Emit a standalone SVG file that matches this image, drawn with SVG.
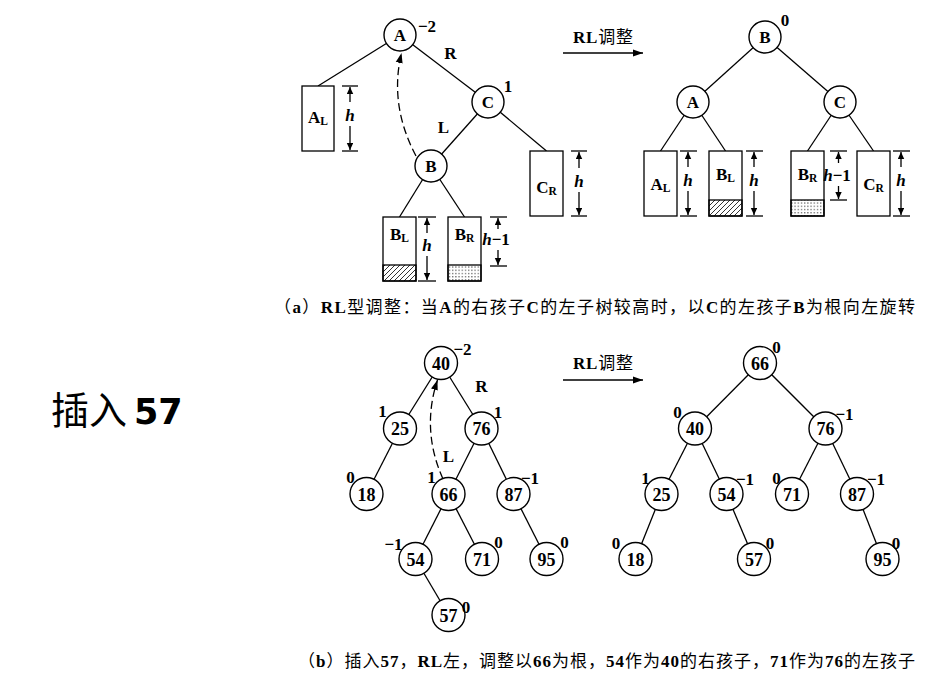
<svg xmlns="http://www.w3.org/2000/svg" width="952" height="679" viewBox="0 0 952 679">
<style>
.e{stroke:#000;stroke-width:1.3;fill:none}
.d{stroke:#000;stroke-width:1.3;fill:none;stroke-dasharray:8 4}
.n circle{fill:#fff;stroke:#000;stroke-width:1.4}
.box rect.o{fill:#fff;stroke:#000;stroke-width:1.3}
.t{font-family:"Liberation Serif","Noto Sans CJK SC",serif;font-weight:bold;fill:#000;text-anchor:middle}
.nl{font-size:17px}
.num{font-size:18px}
.bf{font-size:17px}
.h{font-family:"Liberation Serif",serif;font-weight:bold;font-style:italic;font-size:17px;text-anchor:middle}
.hn{font-style:normal}
.sub{font-size:11.5px}
.cap{font-family:"Liberation Serif","Noto Sans CJK SC",serif;font-size:17px;fill:#000}
.b{font-weight:bold}
.tick{stroke:#000;stroke-width:1.3}
.ha{stroke:#000;stroke-width:1.3;marker-end:url(#as)}
</style>
<defs>
<marker id="al" markerUnits="userSpaceOnUse" markerWidth="10" markerHeight="8" refX="10" refY="4" orient="auto"><path d="M0,0.5 L10,4 L0,7.5 z" fill="#000"/></marker>
<marker id="as" markerUnits="userSpaceOnUse" markerWidth="7" markerHeight="7" refX="7" refY="3.2" orient="auto"><path d="M0,0 L7,3.2 L0,6.4 z" fill="#000"/></marker>
<pattern id="hatch" patternUnits="userSpaceOnUse" width="5" height="5"><path d="M-1,6 L6,-1 M-1,1 L1,-1 M4,6 L6,4" stroke="#000" stroke-width="0.8"/></pattern>
<pattern id="dots" patternUnits="userSpaceOnUse" width="3.2" height="3.2"><rect x="1" y="1" width="1" height="1" fill="#000"/></pattern>
</defs>
<rect width="952" height="679" fill="#fff"/>

<g id="connectors">
  <line class="e" x1="400" y1="35" x2="318" y2="86"/>
  <line class="e" x1="400" y1="35" x2="488" y2="102"/>
  <line class="e" x1="488" y1="102" x2="431" y2="166"/>
  <line class="e" x1="488" y1="102" x2="546.5" y2="151"/>
  <line class="e" x1="431" y1="166" x2="399.5" y2="217"/>
  <line class="e" x1="431" y1="166" x2="464.5" y2="217"/>
  <path class="d" d="M416,156 Q389,105 401.5,53" marker-end="url(#al)"/>
  <line class="e" x1="765" y1="37" x2="693" y2="102"/>
  <line class="e" x1="765" y1="37" x2="840" y2="102"/>
  <line class="e" x1="693" y1="102" x2="660.5" y2="151"/>
  <line class="e" x1="693" y1="102" x2="725.5" y2="151"/>
  <line class="e" x1="840" y1="102" x2="807.5" y2="151"/>
  <line class="e" x1="840" y1="102" x2="873.5" y2="151"/>
  <line class="e" x1="563" y1="53" x2="643" y2="53" marker-end="url(#al)"/>
  <line class="e" x1="563" y1="380" x2="643" y2="380" marker-end="url(#al)"/>
  <line class="e" x1="441" y1="363" x2="400" y2="428.5"/>
  <line class="e" x1="441" y1="363" x2="481.5" y2="428.5"/>
  <line class="e" x1="400" y1="428.5" x2="366.5" y2="494"/>
  <line class="e" x1="481.5" y1="428.5" x2="448.5" y2="494"/>
  <line class="e" x1="481.5" y1="428.5" x2="513.5" y2="494"/>
  <line class="e" x1="448.5" y1="494" x2="415.5" y2="559"/>
  <line class="e" x1="448.5" y1="494" x2="482" y2="559"/>
  <line class="e" x1="513.5" y1="494" x2="546.5" y2="559"/>
  <line class="e" x1="415.5" y1="559" x2="448.5" y2="615"/>
  <path class="d" d="M443,479 Q421,430 437.5,380" marker-end="url(#al)"/>
  <line class="e" x1="760" y1="363" x2="695" y2="428.5"/>
  <line class="e" x1="760" y1="363" x2="825.5" y2="428.5"/>
  <line class="e" x1="695" y1="428.5" x2="661.5" y2="494"/>
  <line class="e" x1="695" y1="428.5" x2="726.5" y2="494"/>
  <line class="e" x1="825.5" y1="428.5" x2="792" y2="494"/>
  <line class="e" x1="825.5" y1="428.5" x2="857" y2="494"/>
  <line class="e" x1="661.5" y1="494" x2="635.5" y2="559"/>
  <line class="e" x1="726.5" y1="494" x2="754" y2="559"/>
  <line class="e" x1="857" y1="494" x2="882.5" y2="559"/>
</g>

<g id="a1-A" class="n"><circle cx="400" cy="35" r="16"/><text class="t nl" x="400" y="41">A</text></g>
<g id="a1-C" class="n"><circle cx="488" cy="102" r="16"/><text class="t nl" x="488" y="108">C</text></g>
<g id="a1-B" class="n"><circle cx="431" cy="166" r="16"/><text class="t nl" x="431" y="172">B</text></g>
<g id="a1-AL" class="box"><rect class="o" x="302" y="86" width="32" height="65"/><text class="t nl" x="318" y="123">A<tspan class="sub" dy="2">L</tspan></text></g>
<g id="a1-CR" class="box"><rect class="o" x="530" y="151" width="33" height="65"/><text class="t nl" x="546.5" y="193">C<tspan class="sub" dy="2">R</tspan></text></g>
<g id="a1-BL" class="box"><rect class="o" x="383" y="217" width="33" height="64"/><rect x="383" y="265" width="33" height="16" fill="url(#hatch)" stroke="#000" stroke-width="1.3"/><text class="t nl" x="399.5" y="240">B<tspan class="sub" dy="2">L</tspan></text></g>
<g id="a1-BR" class="box"><rect class="o" x="448" y="217" width="33" height="64"/><rect x="448" y="265" width="33" height="16" fill="url(#dots)" stroke="#000" stroke-width="1.3"/><text class="t nl" x="464.5" y="240">B<tspan class="sub" dy="2">R</tspan></text></g>
<g id="a1-labels">
  <text class="t bf" x="427" y="32">−2</text>
  <text class="t bf" x="450.5" y="58.5">R</text>
  <text class="t bf" x="508" y="92">1</text>
  <text class="t bf" x="443.5" y="132.5">L</text>
</g>
<g id="a1-heights">
  <line class="tick" x1="342" y1="86" x2="358" y2="86"/><line class="tick" x1="342" y1="151" x2="358" y2="151"/>
  <line class="ha" x1="350" y1="102" x2="350" y2="87"/><line class="ha" x1="350" y1="126" x2="350" y2="150"/>
  <text class="h" x="350" y="121">h</text>
  <line class="tick" x1="571" y1="151" x2="587" y2="151"/><line class="tick" x1="571" y1="216" x2="587" y2="216"/>
  <line class="ha" x1="579" y1="168" x2="579" y2="152"/><line class="ha" x1="579" y1="192" x2="579" y2="215"/>
  <text class="h" x="579" y="187">h</text>
  <line class="tick" x1="418" y1="217" x2="436" y2="217"/><line class="tick" x1="418" y1="281" x2="436" y2="281"/>
  <line class="ha" x1="427" y1="233" x2="427" y2="218"/><line class="ha" x1="427" y1="256" x2="427" y2="280"/>
  <text class="h" x="427" y="251">h</text>
  <line class="tick" x1="490" y1="217" x2="507" y2="217"/><line class="tick" x1="490" y1="266" x2="507" y2="266"/>
  <line class="ha" x1="498" y1="229" x2="498" y2="218"/><line class="ha" x1="498" y1="250" x2="498" y2="265"/>
  <text class="h" x="496" y="245">h<tspan class="hn">−1</tspan></text>
</g>

<g id="a2-B" class="n"><circle cx="765" cy="37" r="16"/><text class="t nl" x="765" y="43">B</text></g>
<g id="a2-A" class="n"><circle cx="693" cy="102" r="16"/><text class="t nl" x="693" y="108">A</text></g>
<g id="a2-C" class="n"><circle cx="840" cy="102" r="16"/><text class="t nl" x="840" y="108">C</text></g>
<g id="a2-AL" class="box"><rect class="o" x="644" y="151" width="33" height="65"/><text class="t nl" x="660.5" y="190">A<tspan class="sub" dy="2">L</tspan></text></g>
<g id="a2-BL" class="box"><rect class="o" x="709" y="151" width="33" height="65"/><rect x="709" y="200" width="33" height="16" fill="url(#hatch)" stroke="#000" stroke-width="1.3"/><text class="t nl" x="725.5" y="180">B<tspan class="sub" dy="2">L</tspan></text></g>
<g id="a2-BR" class="box"><rect class="o" x="791" y="151" width="33" height="65"/><rect x="791" y="200" width="33" height="16" fill="url(#dots)" stroke="#000" stroke-width="1.3"/><text class="t nl" x="807.5" y="180">B<tspan class="sub" dy="2">R</tspan></text></g>
<g id="a2-CR" class="box"><rect class="o" x="857" y="151" width="33" height="65"/><text class="t nl" x="873.5" y="190">C<tspan class="sub" dy="2">R</tspan></text></g>
<g id="a2-labels"><text class="t bf" x="785" y="26">0</text></g>
<g id="a2-heights">
  <line class="tick" x1="680" y1="151" x2="697" y2="151"/><line class="tick" x1="680" y1="216" x2="697" y2="216"/>
  <line class="ha" x1="688" y1="167" x2="688" y2="152"/><line class="ha" x1="688" y1="191" x2="688" y2="215"/>
  <text class="h" x="688" y="186">h</text>
  <line class="tick" x1="746" y1="151" x2="763" y2="151"/><line class="tick" x1="746" y1="216" x2="763" y2="216"/>
  <line class="ha" x1="754" y1="167" x2="754" y2="152"/><line class="ha" x1="754" y1="191" x2="754" y2="215"/>
  <text class="h" x="754" y="186">h</text>
  <line class="tick" x1="830" y1="151" x2="847" y2="151"/><line class="tick" x1="830" y1="200" x2="847" y2="200"/>
  <line class="ha" x1="838.5" y1="163" x2="838.5" y2="152"/><line class="ha" x1="838.5" y1="186" x2="838.5" y2="199"/>
  <text class="h" x="837" y="181">h<tspan class="hn">−1</tspan></text>
  <line class="tick" x1="893" y1="151" x2="910" y2="151"/><line class="tick" x1="893" y1="216" x2="910" y2="216"/>
  <line class="ha" x1="901" y1="167" x2="901" y2="152"/><line class="ha" x1="901" y1="191" x2="901" y2="215"/>
  <text class="h" x="901" y="186">h</text>
</g>

<g id="arrow-labels">
  <text class="cap" x="573" y="43" textLength="60"><tspan class="b">RL</tspan>调整</text>
  <text class="cap" x="573" y="369" textLength="60"><tspan class="b">RL</tspan>调整</text>
</g>

<text class="cap" x="274" y="313" textLength="641" lengthAdjust="spacing">（<tspan class="b">a</tspan>）<tspan class="b">RL</tspan>型调整：当<tspan class="b">A</tspan>的右孩子<tspan class="b">C</tspan>的左子树较高时，以<tspan class="b">C</tspan>的左孩子<tspan class="b">B</tspan>为根向左旋转</text>

<text x="51" y="424" font-family="'Noto Sans CJK SC',sans-serif" font-size="38">插入</text>
<text x="134" y="424" font-family="'DejaVu Sans',sans-serif" font-weight="bold" font-size="35">57</text>

<g id="b1-40" class="n"><circle cx="441" cy="363" r="16.5"/><text class="t num" x="441" y="369.5">40</text></g>
<g id="b1-25" class="n"><circle cx="400" cy="428.5" r="16.5"/><text class="t num" x="400" y="435">25</text></g>
<g id="b1-76" class="n"><circle cx="481.5" cy="428.5" r="16.5"/><text class="t num" x="481.5" y="435">76</text></g>
<g id="b1-18" class="n"><circle cx="366.5" cy="494" r="16.5"/><text class="t num" x="366.5" y="500.5">18</text></g>
<g id="b1-66" class="n"><circle cx="448.5" cy="494" r="16.5"/><text class="t num" x="448.5" y="500.5">66</text></g>
<g id="b1-87" class="n"><circle cx="513.5" cy="494" r="16.5"/><text class="t num" x="513.5" y="500.5">87</text></g>
<g id="b1-54" class="n"><circle cx="415.5" cy="559" r="16.5"/><text class="t num" x="415.5" y="565.5">54</text></g>
<g id="b1-71" class="n"><circle cx="482" cy="559" r="16.5"/><text class="t num" x="482" y="565.5">71</text></g>
<g id="b1-95" class="n"><circle cx="546.5" cy="559" r="16.5"/><text class="t num" x="546.5" y="565.5">95</text></g>
<g id="b1-57" class="n"><circle cx="448.5" cy="615" r="16.5"/><text class="t num" x="448.5" y="621.5">57</text></g>
<g id="b1-labels">
  <text class="t bf" x="462.5" y="355">−2</text>
  <text class="t bf" x="481.5" y="392">R</text>
  <text class="t bf" x="448.5" y="461.5">L</text>
  <text class="t bf" x="382.5" y="417">1</text>
  <text class="t bf" x="498" y="418">1</text>
  <text class="t bf" x="350.5" y="483">0</text>
  <text class="t bf" x="431.5" y="483">1</text>
  <text class="t bf" x="530" y="484">−1</text>
  <text class="t bf" x="393.5" y="549.5">−1</text>
  <text class="t bf" x="498.5" y="548">0</text>
  <text class="t bf" x="564.5" y="548">0</text>
  <text class="t bf" x="466" y="613">0</text>
</g>

<g id="b2-66" class="n"><circle cx="760" cy="363" r="16.5"/><text class="t num" x="760" y="369.5">66</text></g>
<g id="b2-40" class="n"><circle cx="695" cy="428.5" r="16.5"/><text class="t num" x="695" y="435">40</text></g>
<g id="b2-76" class="n"><circle cx="825.5" cy="428.5" r="16.5"/><text class="t num" x="825.5" y="435">76</text></g>
<g id="b2-25" class="n"><circle cx="661.5" cy="494" r="16.5"/><text class="t num" x="661.5" y="500.5">25</text></g>
<g id="b2-54" class="n"><circle cx="726.5" cy="494" r="16.5"/><text class="t num" x="726.5" y="500.5">54</text></g>
<g id="b2-71" class="n"><circle cx="792" cy="494" r="16.5"/><text class="t num" x="792" y="500.5">71</text></g>
<g id="b2-87" class="n"><circle cx="857" cy="494" r="16.5"/><text class="t num" x="857" y="500.5">87</text></g>
<g id="b2-18" class="n"><circle cx="635.5" cy="559" r="16.5"/><text class="t num" x="635.5" y="565.5">18</text></g>
<g id="b2-57" class="n"><circle cx="754" cy="559" r="16.5"/><text class="t num" x="754" y="565.5">57</text></g>
<g id="b2-95" class="n"><circle cx="882.5" cy="559" r="16.5"/><text class="t num" x="882.5" y="565.5">95</text></g>
<g id="b2-labels">
  <text class="t bf" x="776.5" y="353">0</text>
  <text class="t bf" x="677.5" y="418">0</text>
  <text class="t bf" x="844.5" y="420">−1</text>
  <text class="t bf" x="645.5" y="483.5">1</text>
  <text class="t bf" x="745" y="485">−1</text>
  <text class="t bf" x="776.5" y="483.5">0</text>
  <text class="t bf" x="876" y="485">−1</text>
  <text class="t bf" x="616" y="549">0</text>
  <text class="t bf" x="770" y="549">0</text>
  <text class="t bf" x="896" y="549">0</text>
</g>

<text class="cap" x="298" y="667" textLength="617" lengthAdjust="spacing">（<tspan class="b">b</tspan>）插入<tspan class="b">57</tspan>，<tspan class="b">RL</tspan>左，调整以<tspan class="b">66</tspan>为根，<tspan class="b">54</tspan>作为<tspan class="b">40</tspan>的右孩子，<tspan class="b">71</tspan>作为<tspan class="b">76</tspan>的左孩子</text>
</svg>
